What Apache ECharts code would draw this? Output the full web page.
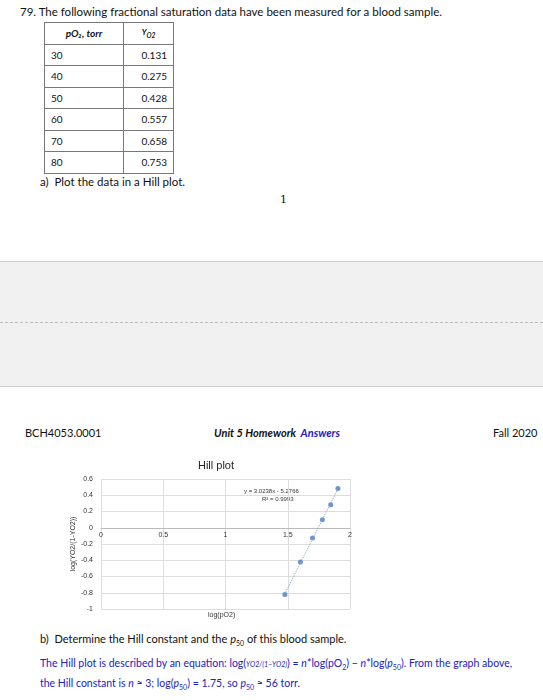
<!DOCTYPE html>
<html>
<head>
<meta charset="utf-8">
<script src="https://cdn.jsdelivr.net/npm/echarts@6/dist/echarts.min.js"></script>
<style>
body{margin:0;width:543px;height:700px;position:relative;font-family:Lato,"Open Sans",sans-serif;color:#111;background:#fff;overflow:hidden}
.t{position:absolute;font-size:11px;white-space:nowrap}
table{position:absolute;left:44px;top:22px;border-collapse:collapse;font-size:10px}
td{border:1px solid #777;height:20.5px;padding:0 6px;vertical-align:middle}
td.a{width:66px}
td.b{width:37px;text-align:right}
.blue{color:#2222bb}
</style>
</head>
<body>
<div class="t" style="left:20px;top:5px;font-size:11.5px">79. The following fractional saturation data have been measured for a blood sample.</div>
<table id="tbl"></table>
<div class="t" style="left:40px;top:175px;font-size:11.5px">a)&nbsp; Plot the data in a Hill plot.</div>
<div class="t" style="left:280px;top:193px;font-family:'DejaVu Serif';font-size:11px">1</div>
<div style="position:absolute;left:0;top:261px;width:543px;height:124px;background:#f1f1f1;border-top:1px solid #ccc;border-bottom:1px solid #ccc"></div>
<div style="position:absolute;left:0;top:322px;width:543px;border-top:1px dashed #bbb"></div>
<div class="t" style="left:25px;top:426px;font-size:11px">BCH4053.0001</div>
<div class="t" style="left:214px;top:426px;font-size:11px;font-weight:bold;font-style:italic">Unit 5 Homework&nbsp; <span class="blue">Answers</span></div>
<div class="t" style="left:493px;top:426px;font-size:11px">Fall 2020</div>
<div id="chart" style="position:absolute;left:0;top:440px;width:543px;height:190px"></div>
<div class="t" style="left:40px;top:632px">b)&nbsp; Determine the Hill constant and the <i>p</i><sub style="font-size:7px">50</sub> of this blood sample.</div>
<div class="t blue" style="left:40px;top:657px;font-size:10.5px">The Hill plot is described by an equation: log(<i style="font-size:7px">YO2/(1−YO2)</i>) = <i>n</i>*log(pO<sub style="font-size:7px">2</sub>) − <i>n</i>*log(<i>p</i><sub style="font-size:7px">50</sub>). From the graph above,</div>
<div class="t blue" style="left:40px;top:677px;font-size:10.5px">the Hill constant is <i>n</i> ≈ 3; log(<i>p</i><sub style="font-size:7px">50</sub>) = 1.75, so <i>p</i><sub style="font-size:7px">50</sub> ≈ 56 torr.</div>
<script>
var pO2 = [30, 40, 50, 60, 70, 80];
var yO2 = ['0.131', '0.275', '0.428', '0.557', '0.658', '0.753'];
var logP = [1.477, 1.602, 1.699, 1.778, 1.845, 1.903];
var hill = [-0.822, -0.421, -0.126, 0.099, 0.284, 0.484];
var trendX = [1.477, 1.903];
var trendY = [-0.81, 0.478];

var html = '<tr><td class="a" style="text-align:center;font-weight:bold;font-style:italic">pO₂, torr</td><td class="b" style="text-align:center;font-weight:bold;font-style:italic;font-size:8px">Y<sub>O2</sub></td></tr>';
for (var i = 0; i < pO2.length; i++) {
  html += '<tr><td class="a">' + pO2[i] + '</td><td class="b">' + yO2[i] + '</td></tr>';
}
document.getElementById('tbl').innerHTML = html;

var chart = echarts.init(document.getElementById('chart'));
chart.setOption({
  animation: false,
  title: {text: 'Hill plot', left: 211, top: 15, textAlign: 'center',
    textStyle: {fontSize: 11, fontWeight: 'normal', color: '#222', fontFamily: 'Liberation Sans'}},
  grid: {left: 101, right: 193, top: 39, bottom: 21, containLabel: false, outerBoundsMode: 'none'},
  xAxis: {type: 'value', min: 0, max: 2, interval: 0.5, offset: -81,
    axisLine: {onZero: false, lineStyle: {color: '#bbb'}}, axisTick: {show: false},
    axisLabel: {fontSize: 7, color: '#333', margin: 4},
    splitLine: {lineStyle: {color: '#ddd'}}},
  yAxis: {type: 'value', min: -1, max: 0.6, interval: 0.2, name: 'log(YO2/(1-YO2))', nameLocation: 'middle', nameGap: 24,
    nameTextStyle: {fontSize: 7, color: '#333'},
    axisLine: {show: false}, axisTick: {show: false},
    axisLabel: {fontSize: 7, color: '#333', margin: 8, formatter: function (v) { return String(Math.round(v * 10) / 10); }},
    splitLine: {lineStyle: {color: '#ddd'}}},
  series: [
    {type: 'line', data: trendX.map(function (x, i) { return [x, trendY[i]]; }), symbol: 'none',
      lineStyle: {color: '#7ea3d4', width: 1, type: 'dotted'}},
    {type: 'scatter', data: logP.map(function (x, i) { return [x, hill[i]]; }), symbolSize: 5,
      itemStyle: {color: '#4a78c0'}}
  ],
  graphic: [
    {type: 'text', left: 244, top: 48, style: {text: 'y = 3.0238x - 5.2766', fontSize: 6, fill: '#333'}},
    {type: 'text', left: 262, top: 56, style: {text: 'R² = 0.9993', fontSize: 6, fill: '#333'}},
    {type: 'text', left: 208, top: 172, style: {text: 'log(pO2)', fontSize: 7, fill: '#333'}}
  ]
});
</script>
</body>
</html>
